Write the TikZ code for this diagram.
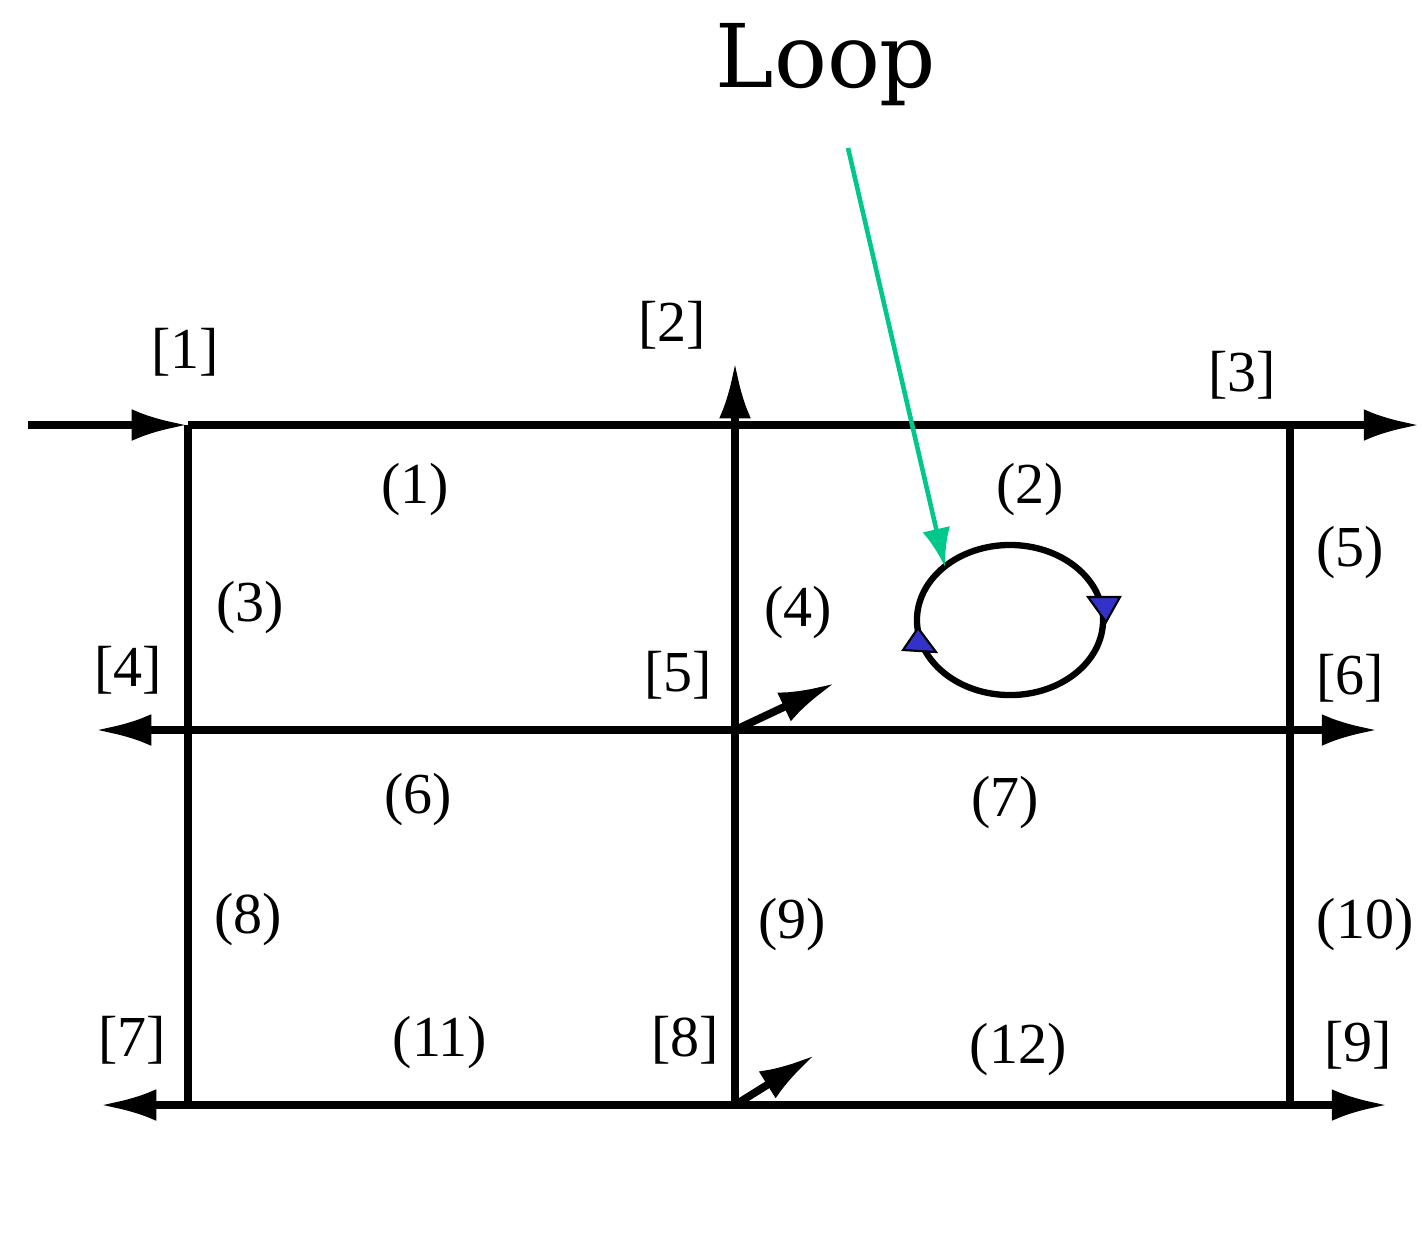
\documentclass[tikz,border=0pt]{standalone}
\usepackage{fontspec}
\setmainfont{Liberation Serif}
\newfontfamily\loopfont{DejaVu Serif}
\usetikzlibrary{arrows.meta,shapes.geometric}
\definecolor{grn}{RGB}{0,200,140}
\definecolor{blu}{RGB}{50,50,200}
\begin{document}
\begin{tikzpicture}[x=0.01cm,y=-0.01cm,
  ln/.style={line width=2.2pt},
  ar/.style={ln,-{Latex[length=16pt,width=9pt]}},
  lb/.style={font=\fontsize{16.5}{18}\selectfont},
  tri/.style={fill=blu,draw=black,line width=0.6pt}]
\useasboundingbox (0,0) rectangle (1422,1235);
\coordinate (a) at (28,425); \coordinate (b) at (188,425); \coordinate (c) at (1420,425);
\coordinate (m2) at (735,362); \coordinate (m1) at (735,1105);
\coordinate (l1) at (188,1105); \coordinate (r0) at (1290,425); \coordinate (r1) at (1290,1105);
\coordinate (mid) at (735,730); \coordinate (mL) at (95,730); \coordinate (mR) at (1378,730);
\coordinate (bL) at (100,1105); \coordinate (bR) at (1388,1105);
\coordinate (s1) at (835,683); \coordinate (s2) at (815,1055);
\draw[ar] (a) -- (b);
\draw[ar] (b) -- (c);
\draw[ln] (b) -- (l1);
\draw[ar] (m1) -- (m2);
\draw[ln] (r0) -- (r1);
\draw[ar] (mid) -- (mL);
\draw[ar] (mid) -- (mR);
\draw[ar] (m1) -- (bL);
\draw[ar] (m1) -- (bR);
\draw[ar] (mid) -- (s1);
\draw[ar] (m1) -- (s2);
\foreach \t/\x/\y in {[1]/185/352,[2]/672/325,[3]/1242/375,[4]/128/670,[5]/678/675,[6]/1350/678,[7]/132/1040,[8]/685/1040,[9]/1358/1045,
 (1)/415/490,(2)/1030/490,(3)/250/608,(4)/798/613,(5)/1350/553,(6)/418/800,(7)/1005/803,(8)/248/920,(9)/792/925,(10)/1365/925,(11)/440/1043,(12)/1018/1050}
  \node[lb] at (\x,\y) {\t};
\node[font=\loopfont\fontsize{25}{27}\selectfont] (loop) at (826,65) {Loop};
\node[draw,ellipse,minimum width=1.86cm,minimum height=1.5cm,line width=1.8pt,inner sep=0] (ell) at (1010,620) {};
\draw[tri] (1088,597) -- (1120,597) -- (1106,622) -- cycle;
\draw[tri] (918,628) -- (936,652) -- (903,650) -- cycle;
\coordinate (gs) at (848,148); \coordinate (ge) at (945,567);
\draw[grn,line width=1.3pt,-{Latex[length=11pt,width=8pt]}] (gs) -- (ge);
\end{tikzpicture}
\end{document}
